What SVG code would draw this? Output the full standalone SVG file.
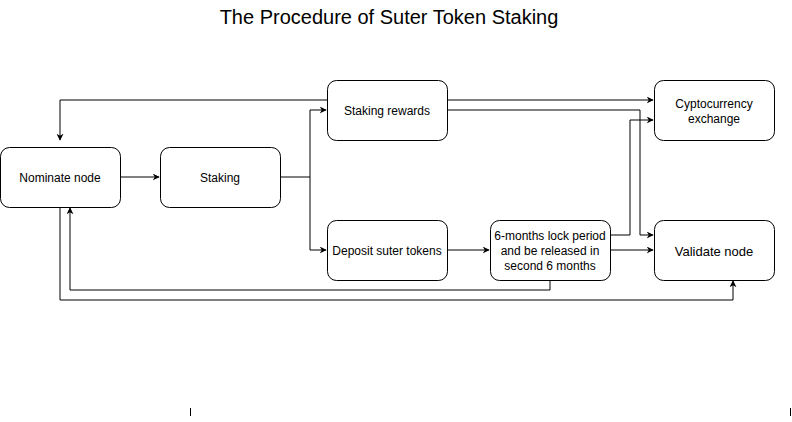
<svg xmlns="http://www.w3.org/2000/svg" width="792" height="422" viewBox="0 0 792 422">
<defs>
<marker id="a" viewBox="0 0 10 10" refX="9" refY="5" markerWidth="7" markerHeight="7" orient="auto" markerUnits="userSpaceOnUse"><path d="M0,0 L10,5 L0,10 L3,5 Z" fill="#000"/></marker>
<style>
.n rect{fill:#fff;stroke:#000;stroke-width:1}
.n text{font-family:"Liberation Sans",Arial,sans-serif;font-size:12px;text-anchor:middle;fill:#000}
.c path{fill:none;stroke:#000;stroke-width:1;marker-end:url(#a)}
</style>
</defs>
<rect width="792" height="422" fill="#fff"/>
<text x="389" y="24" font-family="Liberation Sans,Arial,sans-serif" font-size="20" text-anchor="middle">The Procedure of Suter Token Staking</text>
<g class="c" id="connectors">
<path d="M120,177 H159"/>
<path d="M280,177 H310 V110 H326"/>
<path d="M310,177 V250 H326"/>
<path d="M327,100 H60 V140"/>
<path d="M447,100 H653"/>
<path d="M447,110 H640 V235 H653"/>
<path d="M610,235 H630 V120 H653"/>
<path d="M610,250 H653"/>
<path d="M447,250 H489"/>
<path d="M550,280 V290 H70 V208"/>
<path d="M60,207 V300 H733 V281"/>
</g>
<g class="n" id="nominate"><rect x="0.5" y="147.5" width="120" height="60" rx="9"/><text x="60" y="182">Nominate node</text></g>
<g class="n" id="staking"><rect x="160.5" y="147.5" width="120" height="60" rx="9"/><text x="220" y="182">Staking</text></g>
<g class="n" id="rewards"><rect x="327.5" y="80.5" width="120" height="60" rx="9"/><text x="387" y="115">Staking rewards</text></g>
<g class="n" id="deposit"><rect x="327.5" y="220.5" width="120" height="60" rx="9"/><text x="387" y="255">Deposit suter tokens</text></g>
<g class="n" id="lock"><rect x="490.5" y="220.5" width="120" height="60" rx="9"/><text x="550" y="240">6-months lock period</text><text x="550" y="255">and be released in</text><text x="550" y="270">second 6 months</text></g>
<g class="n" id="exchange"><rect x="654.5" y="80.5" width="120" height="60" rx="9"/><text x="714" y="108">Cyptocurrency</text><text x="714" y="123">exchange</text></g>
<g class="n" id="validate"><rect x="654.5" y="220.5" width="120" height="60" rx="9"/><text x="714" y="256" style="font-size:13px">Validate node</text></g>
<path d="M190.5,408 V416 M790.5,408 V416" stroke="#000"/>
</svg>
